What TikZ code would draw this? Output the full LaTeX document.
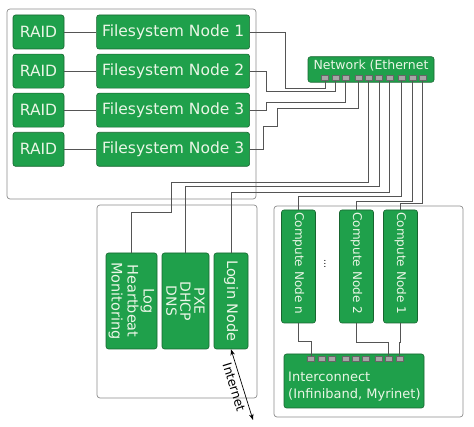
\documentclass[tikz,border=0pt]{standalone}
\usepackage{fontspec}
\setmainfont{DejaVu Sans}
\usepackage{tikz}
\usetikzlibrary{arrows.meta, positioning, calc}
\definecolor{boxgreen}{HTML}{1FA04B}
\definecolor{darkgreen}{HTML}{17652F}
\definecolor{lightgreen}{HTML}{EAF6E6}
\definecolor{wiregray}{HTML}{555555}
\definecolor{groupgray}{HTML}{8C8C8C}

\begin{document}
\begin{tikzpicture}[x=1pt, y=1pt,
    box/.style = {rectangle, rounded corners=2.5pt, fill=boxgreen, draw=darkgreen, line width=0.6pt, text=lightgreen, inner sep=0pt},
    raid/.style = {box, minimum width=51pt, minimum height=34pt, font=\fontsize{15.5}{18}\selectfont},
    fsnode/.style = {box, minimum width=153pt, minimum height=34pt, font=\fontsize{15.5}{18}\selectfont},
    upright/.style = {box, rotate=-90, align=center, minimum width=96pt},
    compute/.style = {box, rotate=-90, minimum height=34pt, text width=108pt, inner xsep=2.5pt, align=left, font=\fontsize{12}{14}\selectfont},
    port/.style = {rectangle, fill=gray!70, draw=black!60, line width=0.4pt, minimum width=7pt, minimum height=5pt, inner sep=0pt},
    group/.style = {draw=groupgray, line width=0.7pt, rounded corners=3pt},
    wire/.style = {draw=wiregray, line width=0.7pt},
    node distance=4.5pt]
        \useasboundingbox (0,0) rectangle (474,-427);
        \draw[group] (7,-9) rectangle (256,-199); % storage
        \draw[group] (97,-205) rectangle (257,-398); % services
        \draw[group] (274,-206) rectangle (463,-417); % compute
        \node[raid] (raid1) at (38.5,-32) {RAID};
        \node[raid, below=of raid1] (raid2) {RAID};
        \node[raid, below=of raid2] (raid3) {RAID};
        \node[raid, below=of raid3] (raid4) {RAID};
        \node[fsnode, right=32pt of raid1] (fs1) {Filesystem Node 1};
        \node[fsnode, right=32pt of raid2] (fs2) {Filesystem Node 2};
        \node[fsnode, right=32pt of raid3] (fs3) {Filesystem Node 3};
        \node[fsnode, right=32pt of raid4] (fs4) {Filesystem Node 3};
        \node[box, minimum width=126pt, text height=9.5pt, text depth=10pt, inner ysep=3pt, font=\fontsize{12.5}{15}\selectfont] (net) at (371,-69.5) {Network (Ethernet};
        \node[port] (p1) at (325,-78) {};
        \node[port, right=3pt of p1] (p2) {};
        \node[port, right=3pt of p2] (p3) {};
        \node[port, right=5pt of p3] (p4) {};
        \node[port, right=3pt of p4] (p5) {};
        \node[port, right=3pt of p5] (p6) {};
        \node[port, right=3pt of p6] (p7) {};
        \node[port, right=5pt of p7] (p8) {};
        \node[port, right=3pt of p8] (p9) {};
        \node[port, right=3pt of p9] (p10) {};
        \node[upright, minimum height=51pt, font=\fontsize{14.5}{16}\selectfont] (log) at (131.5,-301) {Log\\Heartbeat\\Monitoring};
        \node[upright, minimum height=47pt, font=\fontsize{14}{14}\selectfont] (pxe) at (185.5,-301) {PXE\\DHCP\\DNS};
        \node[upright, minimum height=34pt, font=\fontsize{14.5}{16}\selectfont] (login) at (231,-301) {Login Node};
        \node[compute] (cn) at (298.5,-266.5) {Compute Node n};
        \node[compute] (c2) at (356.5,-266.5) {Compute Node 2};
        \node[compute] (c1) at (400.5,-266.5) {Compute Node 1};
        \node[rotate=-90, font=\fontsize{9}{9}\selectfont] (dots) at (325,-264) {...};
        \node[box, minimum width=140pt, minimum height=54pt] (ic) at (354,-381) {};
        \node[text=lightgreen, align=left, anchor=west, inner sep=0pt, font=\fontsize{13}{17}\selectfont] (ictext) at (288,-386.5) {Interconnect\\(Infiniband, Myrinet)};
        \node[port] (q1) at (311,-359) {};
        \node[port, right=3pt of q1] (q2) {};
        \node[port, right=3pt of q2] (q3) {};
        \node[port, right=6pt of q3] (q4) {};
        \node[port, right=3pt of q4] (q5) {};
        \node[port, right=3pt of q5] (q6) {};
        \node[port, right=5pt of q6] (q7) {};
        \node[port, right=3pt of q7] (q8) {};
        \node[port, right=3pt of q8] (q9) {};
        \draw[wire] (raid1) -- (fs1);
        \draw[wire] (raid2) -- (fs2);
        \draw[wire] (raid3) -- (fs3);
        \draw[wire] (raid4) -- (fs4);
        \draw[wire] (fs1.east) -| (285,-88) -| (p1.south);
        \draw[wire] (fs2.east) -| (266,-91) -| (p2.south);
        \draw[wire] (fs3.east) -| (266,-102) -| (p3.south);
        \draw[wire] (fs4.east) -| (263,-126) -| (277,-108) -| (p4.south);
        \draw[wire] (p5.south) |- (171,-182) |- ($(log.west)+(0,40)$) -- (log.west);
        \draw[wire] (p6.south) |- ($(pxe.west)+(0,66)$) -- (pxe.west);
        \draw[wire] (p7.south) |- ($(login.west)+(0,60)$) -- (login.west);
        \draw[wire] (p8.south) |- ($(cn.west)+(0,13)$) -- (cn.west);
        \draw[wire] (p9.south) |- ($(c2.west)+(0,8)$) -- (c2.west);
        \draw[wire] (p10.south) |- ($(c1.west)+(0,6)$) -- (c1.west);
        \draw[wire] (cn.east) |- ($(q1.north)+(0,15)$) -- (q1.north);
        \draw[wire] (c2.east) |- ($(q8.north)+(0,14)$) -- (q8.north);
        \draw[wire] (c1.east) |- ($(q9.north)+(0,14)$) -- (q9.north);
        \coordinate (inet) at (253,-420);
        \draw[{Stealth[length=6pt]}-{Stealth[length=6pt]}, line width=0.7pt] (login.east) -- node[sloped, below, font=\fontsize{12.5}{15}\selectfont] (inetlabel) {Internet} (inet);
    \end{tikzpicture}
\end{document}
